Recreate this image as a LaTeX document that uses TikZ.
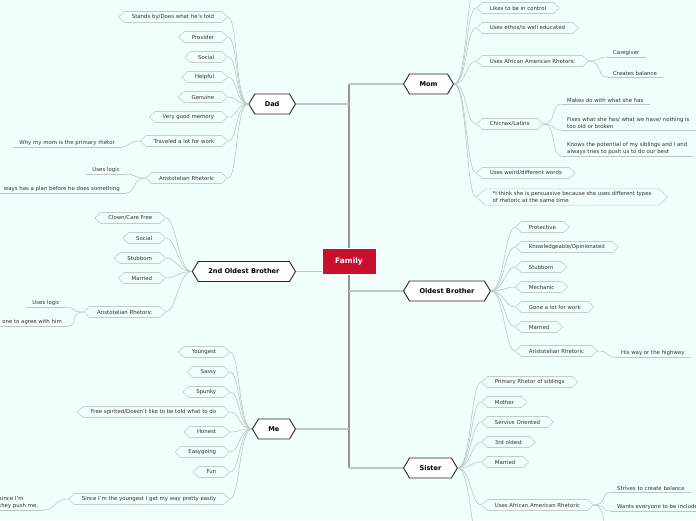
\documentclass[tikz,border=0pt]{standalone}
\usepackage{fontspec}
\setmainfont{DejaVu Sans}
\usetikzlibrary{positioning,shapes.symbols}
\definecolor{paper}{RGB}{241,255,252}
\definecolor{famred}{RGB}{200,16,46}
\definecolor{twig}{RGB}{190,198,198}
\definecolor{rim}{RGB}{196,204,204}
\definecolor{ink}{RGB}{50,50,50}
\newcommand\leafsize{\fontsize{5.4}{7}\selectfont}
\newcommand\membersize{\fontsize{6.6}{8}\selectfont\bfseries}

\begin{document}
\begin{tikzpicture}[x=1pt,y=-1pt,
  member/.style={signal,signal to=east and west,signal pointer angle=118,draw=black!85,line width=0.9pt,fill=white,minimum height=20pt,inner xsep=10pt,font=\membersize},
  trait/.style={signal,signal to=east and west,signal pointer angle=86,draw=rim,line width=0.6pt,fill=paper,minimum height=11pt,inner xsep=7.5pt,inner ysep=2.5pt,text=ink,font=\leafsize,align=left},
  note/.style={inner xsep=6pt,inner ysep=1.5pt,text=ink,font=\leafsize,align=left,append after command={(\tikzlastnode.south west) edge[wire] (\tikzlastnode.south east)}},
  wire/.style={draw=twig,line width=0.6pt},
  wl/.style={to path={.. controls +(-13,0) and +(10,0) .. (\tikztotarget)}},
  wr/.style={to path={.. controls +(13,0) and +(-10,0) .. (\tikztotarget)}},
  trunk/.style={draw=black!42,line width=1.6pt},
  branch/.style={draw=twig,line width=1.2pt}]
\useasboundingbox (0,0) rectangle (696,520);
\clip (0,0) rectangle (696,520);
\fill[paper] (0,0) rectangle (696,520);

% centre and family members
\node[fill=famred,draw=white,line width=1pt,minimum width=54pt,minimum height=26pt,text=white,font=\fontsize{7.5}{9}\selectfont\bfseries] (family) at (349,261) {Family};
\node[member,anchor=west] (mom) at (403,84) {Mom};
\node[member,anchor=east] (dad) at (296,104) {Dad};
\node[member,anchor=east] (brother2) at (296,271.5) {2nd Oldest Brother};
\node[member,anchor=west] (oldest) at (403,291) {Oldest Brother};
\node[member,anchor=east] (me) at (296,429) {Me};
\node[member,anchor=west] (sister) at (403,468) {Sister};

\draw[trunk] (family.north) -- (family.north |- mom.west);
\draw[trunk] (family.south) -- (family.south |- sister.west);
\draw[branch] (family.north |- mom.west) -- (mom.west);
\draw[branch] (family.north |- dad.east) -- (dad.east);
\draw[branch] (brother2.east) -- (brother2.east -| family.west);
\draw[branch] (family.south |- oldest.west) -- (oldest.west);
\draw[branch] (family.south |- me.east) -- (me.east);
\draw[branch] (family.south |- sister.west) -- (sister.west);

% Dad
\node[trait,anchor=east] (d1) at (228,17) {Stands by/Does what he's told};
\node[trait,anchor=east] (d2) at (228,37) {Provider};
\node[trait,anchor=east] (d3) at (228,57) {Social};
\node[trait,anchor=east] (d4) at (228,77) {Helpful};
\node[trait,anchor=east] (d5) at (228,97) {Genuine};
\node[trait,anchor=east] (d6) at (228,117) {Very good memory};
\node[trait,anchor=east] (d7) at (228,141) {Traveled a lot for work};
\node[trait,anchor=east] (d8) at (228,178) {Aristotelian Rhetoric};
\node[note,anchor=south east] (d7a) at (121,147) {Why my mom is the primary rhetor};
\node[note,anchor=south east] (d8a) at (126,174) {Uses logic};
\node[note,anchor=south east] (d8b) at (126,193) {ways has a plan before he does something};
\draw[wire] (dad.west) edge[wl] (d1.east) edge[wl] (d2.east) edge[wl] (d3.east) edge[wl] (d4.east)
  edge[wl] (d5.east) edge[wl] (d6.east) edge[wl] (d7.east) edge[wl] (d8.east);
\draw[wire] (d7.west) edge[wl] (d7a.south east);
\draw[wire] (d8.west) edge[wl] (d8a.south east) edge[wl] (d8b.south east);

% 2nd oldest brother
\node[trait,anchor=east] (b1) at (166,218) {Clown/Care Free};
\node[trait,anchor=east] (b2) at (166,238) {Social};
\node[trait,anchor=east] (b3) at (166,258) {Stubborn};
\node[trait,anchor=east] (b4) at (166,278) {Married};
\node[trait,anchor=east] (b5) at (166,312) {Aristotelian Rhetoric};
\node[note,anchor=south east] (b5a) at (66,307) {Uses logic};
\node[note,anchor=south east] (b5b) at (68,326) {one to agree with him};
\draw[wire] (brother2.west) edge[wl] (b1.east) edge[wl] (b2.east) edge[wl] (b3.east)
  edge[wl] (b4.east) edge[wl] (b5.east);
\draw[wire] (b5.west) edge[wl] (b5a.south east) edge[wl] (b5b.south east);

% me
\node[trait,anchor=east] (e1) at (230,352) {Youngest};
\node[trait,anchor=east] (e2) at (230,372) {Sassy};
\node[trait,anchor=east] (e3) at (230,392) {Spunky};
\node[trait,anchor=east] (e4) at (230,412) {Free spirited/Doesn't like to be told what to do};
\node[trait,anchor=east] (e5) at (230,432) {Honest};
\node[trait,anchor=east] (e6) at (230,452) {Easygoing};
\node[trait,anchor=east] (e7) at (230,472) {Fun};
\node[trait,anchor=east] (e8) at (230,499) {Since I'm the youngest I get my way pretty easily};
\node[note,anchor=south west] (e8a) at (-7,510) {since I'm\\they push me,};
\draw[wire] (me.west) edge[wl] (e1.east) edge[wl] (e2.east) edge[wl] (e3.east) edge[wl] (e4.east)
  edge[wl] (e5.east) edge[wl] (e6.east) edge[wl] (e7.east) edge[wl] (e8.east);
\draw[wire] (e8.west) edge[wl] (e8a.south east);

% mom
\coordinate (m0) at (476,-14);
\node[trait,anchor=west] (m1) at (476,8) {Likes to be in control};
\node[trait,anchor=west] (m2) at (476,28) {Uses ethos/is well educated};
\node[trait,anchor=west] (m3) at (476,61) {Uses African American Rhetoric};
\node[trait,anchor=west] (m4) at (476,124) {Chicnax/Latinx};
\node[trait,anchor=west] (m5) at (476,173) {Uses weird/different words};
\node[trait,anchor=west] (m6) at (476,197) {*I think she is persuasive because she uses different types\\of rhetoric at the same time};
\node[note,anchor=south west] (m3a) at (607,57) {Caregiver};
\node[note,anchor=south west] (m3b) at (607,77) {Creates balance};
\node[note,anchor=south west] (m4a) at (561,104) {Makes do with what she has};
\node[note,anchor=south west] (m4b) at (561,130) {Fixes what she has/ what we have/ nothing is\\too old or broken};
\node[note,anchor=south west] (m4c) at (561,156) {Knows the potential of my siblings and I and\\always tries to push us to do our best};
\draw[wire] (mom.east) edge[wr] (m0) edge[wr] (m1.west) edge[wr] (m2.west) edge[wr] (m3.west)
  edge[wr] (m4.west) edge[wr] (m5.west) edge[wr] (m6.west);
\draw[wire] (m3.east) edge[wr] (m3a.south west) edge[wr] (m3b.south west);
\draw[wire] (m4.east) edge[wr] (m4a.south west) edge[wr] (m4b.south west) edge[wr] (m4c.south west);

% oldest brother
\node[trait,anchor=west] (o1) at (515,227) {Protective};
\node[trait,anchor=west] (o2) at (515,247) {Knowledgeable/Opinionated};
\node[trait,anchor=west] (o3) at (515,267) {Stubborn};
\node[trait,anchor=west] (o4) at (515,287) {Mechanic};
\node[trait,anchor=west] (o5) at (515,307) {Gone a lot for work};
\node[trait,anchor=west] (o6) at (515,327) {Married};
\node[trait,anchor=west] (o7) at (515,351) {Aristotelian Rhetoric};
\node[note,anchor=south west] (o7a) at (615,357) {His way or the highway};
\draw[wire] (oldest.east) edge[wr] (o1.west) edge[wr] (o2.west) edge[wr] (o3.west) edge[wr] (o4.west)
  edge[wr] (o5.west) edge[wr] (o6.west) edge[wr] (o7.west);
\draw[wire] (o7.east) edge[wr] (o7a.south west);

% sister
\node[trait,anchor=west] (s1) at (481,382) {Primary Rhetor of siblings};
\node[trait,anchor=west] (s2) at (481,402) {Mother};
\node[trait,anchor=west] (s3) at (481,422) {Service Oriented};
\node[trait,anchor=west] (s4) at (481,442) {3rd oldest};
\node[trait,anchor=west] (s5) at (481,462) {Married};
\node[trait,anchor=west] (s6) at (481,505) {Uses African American Rhetoric};
\coordinate (s7) at (481,548);
\node[note,anchor=south west] (s6a) at (611,492) {Strives to create balance};
\node[note,anchor=south west] (s6b) at (611,511) {Wants everyone to be included};
\coordinate (s6c) at (611,533);
\draw[wire] (sister.east) edge[wr] (s1.west) edge[wr] (s2.west) edge[wr] (s3.west) edge[wr] (s4.west)
  edge[wr] (s5.west) edge[wr] (s6.west) edge[wr] (s7);
\draw[wire] (s6.east) edge[wr] (s6a.south west) edge[wr] (s6b.south west) edge[wr] (s6c);
\end{tikzpicture}
\end{document}
